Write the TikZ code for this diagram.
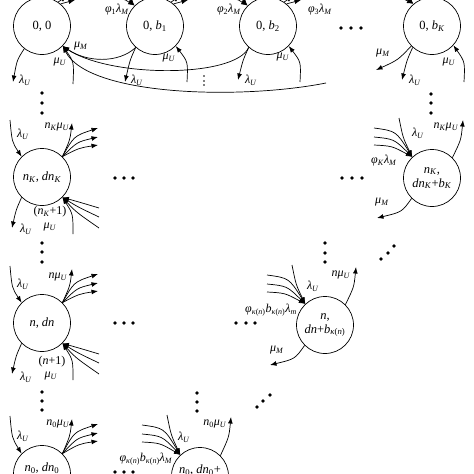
\documentclass[12pt,tikz,border=0pt]{standalone}
\usepackage{fontspec}
\setmainfont{Liberation Serif}
\usetikzlibrary{arrows.meta}
\newcommand\V[1]{\textit{#1}}
\newcommand\Sb[1]{\textsubscript{#1}}
\newcommand\lU{\V{λ}\Sb{\V{U}}}
\newcommand\mU{\V{μ}\Sb{\V{U}}}
\newcommand\mM{\V{μ}\Sb{\V{M}}}
\newcommand\lM{\V{λ}\Sb{\V{M}}}
\newcommand\kn{\V{κ}(\V{n})}
% left column pattern, frame of node at (42,177)
\newcommand\lefttop[2]{%
\begin{scope}[shift={(0,#2)}]
 \coordinate (#1-s) at (10,120);
 \draw[ar] (#1-s) .. controls (12,142) .. (#1.135);
 \coordinate (#1-u) at (72,123);
 \draw[ar] (#1.45) .. controls (70,140) .. (#1-u);
 \coordinate (#1-f1) at (98,128);
 \coordinate (#1-f2) at (98,137);
 \coordinate (#1-f3) at (98,145);
 \draw[ar] (#1.45) .. controls (74,136) .. (#1-f1);
 \draw[ar] (#1.45) .. controls (77,142) .. (#1-f2);
 \draw[ar] (#1.45) .. controls (79,148) .. (#1-f3);
\end{scope}}
\newcommand\leftbot[2]{%
\begin{scope}[shift={(0,#2)}]
 \coordinate (#1-g1) at (99,208);
 \coordinate (#1-g2) at (99,217);
 \coordinate (#1-g3) at (99,228);
 \coordinate (#1-g4) at (73,234);
 \draw[ar] (#1-g1) .. controls (79,202) .. (#1.-45);
 \draw[ar] (#1-g2) .. controls (78,207) .. (#1.-45);
 \draw[ar] (#1-g3) .. controls (76,212) .. (#1.-45);
 \draw[ar] (#1-g4) .. controls (73,214) .. (#1.-45);
 \coordinate (#1-d) at (12,228);
 \draw[ar] (#1.225) .. controls (16,210) .. (#1-d);
\end{scope}}
% right pattern, frame of node at (432,178)
\newcommand\righttop[2]{%
\begin{scope}[shift={#2}]
 \coordinate (#1-s) at (399,118);
 \coordinate (#1-f1) at (374,128);
 \coordinate (#1-f2) at (374,137);
 \coordinate (#1-f3) at (374,145);
 \draw[ar] (#1-s) .. controls (403,138) .. (#1.133);
 \draw[ar] (#1-f1) .. controls (396,131) .. (#1.133);
 \draw[ar] (#1-f2) .. controls (394,139) .. (#1.133);
 \draw[ar] (#1-f3) .. controls (392,146) .. (#1.133);
 \coordinate (#1-u) at (463,120);
 \draw[ar] (#1.45) .. controls (461,140) .. (#1-u);
\end{scope}}
\newcommand\rightmu[2]{%
\begin{scope}[shift={#2}]
 \coordinate (#1-m) at (377,218);
 \draw[ar] (#1.225) .. controls (402,212) .. (#1-m);
\end{scope}}
\begin{document}
\begin{tikzpicture}[x=1pt,y=-1pt,
 st/.style={draw,circle,minimum size=57pt,inner sep=0pt,line width=0.7pt,font=\fontsize{12.5}{16}\selectfont,align=center},
 lb/.style={inner sep=0pt,font=\fontsize{12}{13}\selectfont},
 ar/.style={line width=0.7pt,-{Latex[length=6.5pt,width=4.8pt]}},
 ln/.style={line width=0.7pt}]
\useasboundingbox (0,0) rectangle (474,474);
\clip (0,0) rectangle (474,474);
% states
\node[st] (a) at (42,26) {0, 0};
\node[st] (b1) at (155,26) {0, \V{b}\Sb{1}};
\node[st] (b2) at (268,26) {0, \V{b}\Sb{2}};
\node[st] (bK) at (432,26) {0, \V{b}\Sb{\V{K}}};
\node[st] (nK) at (42,177) {\V{n}\Sb{\V{K}}, \V{dn}\Sb{\V{K}}};
\node[st] (mK) at (432,178) {\V{n}\Sb{\V{K}},\\[-2pt]\V{dn}\Sb{\V{K}}+\V{b}\Sb{\V{K}}};
\node[st] (n) at (42,323) {\V{n}, \V{dn}};
\node[st] (m) at (325,325) {\V{n},\\[-2pt]\V{dn}+\V{b}\Sb{\kn}};
\node[st] (n0) at (42,474) {\raisebox{13pt}{\V{n}\Sb{0}, \V{dn}\Sb{0}}};
\node[st] (m0) at (200,476) {\V{n}\Sb{0}, \V{dn}\Sb{0}+\\[-2pt]\mbox{}};
% ---- top row
\coordinate (aL) at (13,82);
\draw[ar] (a.232) .. controls (17,60) .. (aL);
\coordinate (aU) at (73,84);
\draw[ar] (aU) .. controls (74,62) .. (a.316);
\coordinate (aT1) at (67,-4);
\coordinate (aT2) at (75,0);
\draw[ar] (a.56) -- (aT1);
\draw[ar] (a.50) -- (aT2);
% b1
\coordinate (b1i1) at (110,-5);
\coordinate (b1i2) at (118,-7);
\draw[ar] (b1i1) .. controls (124,-1) .. (b1.135);
\draw[ar] (b1i2) .. controls (127,-3) .. (b1.135);
\coordinate (b1T1) at (180,-4);
\coordinate (b1T2) at (188,0);
\draw[ar] (b1.56) -- (b1T1);
\draw[ar] (b1.50) -- (b1T2);
\coordinate (b1L) at (125,82);
\draw[ar] (b1.228) .. controls (130,60) .. (b1L);
\draw[ar] (b1.228) .. controls (118,64) and (86,62) .. (a.316);
\coordinate (b1U) at (187,82);
\draw[ar] (b1U) .. controls (188,62) .. (b1.316);
% b2
\coordinate (b2i1) at (223,-5);
\coordinate (b2i2) at (231,-7);
\draw[ar] (b2i1) .. controls (237,-1) .. (b2.135);
\draw[ar] (b2i2) .. controls (240,-3) .. (b2.135);
\coordinate (b2T1) at (293,-4);
\coordinate (b2T2) at (301,0);
\draw[ar] (b2.56) -- (b2T1);
\draw[ar] (b2.50) -- (b2T2);
\coordinate (b2L) at (238,80);
\draw[ar] (b2.228) .. controls (243,60) .. (b2L);
\draw[ar] (b2.228) .. controls (235,78) and (110,78) .. (a.316);
\coordinate (b2U) at (300,82);
\draw[ar] (b2U) .. controls (301,62) .. (b2.316);
\coordinate (c3) at (326,83);
\draw[ar] (c3) .. controls (240,100) and (88,96) .. (a.316);
% bK
\coordinate (bKi1) at (390,-6);
\coordinate (bKi2) at (397,-8);
\draw[ar] (bKi1) .. controls (404,-1) .. (bK.130);
\draw[ar] (bKi2) .. controls (407,-3) .. (bK.130);
\coordinate (bKT1) at (444,-6);
\coordinate (bKT2) at (450,-5);
\draw[ln] (bK.80) -- (bKT1);
\draw[ln] (bK.74) -- (bKT2);
\coordinate (bKL) at (402,80);
\draw[ar] (bK.228) .. controls (407,60) .. (bKL);
\coordinate (bKM) at (376,70);
\draw[ar] (bK.224) .. controls (398,60) .. (bKM);
\coordinate (bKU) at (464,82);
\draw[ar] (bKU) .. controls (465,62) .. (bK.318);
% top labels
\node[lb] (t1) at (117,10) {\V{φ}\Sb{1}\lM};
\node[lb] (t2) at (229,10) {\V{φ}\Sb{2}\lM};
\node[lb] (t3) at (320,10) {\V{φ}\Sb{3}\lM};
\node[lb] (t4) at (25,80) {\lU};
\node[lb] (t5) at (137,80) {\lU};
\node[lb] (t6) at (251,80) {\lU};
\node[lb] (t7) at (415,80) {\lU};
\node[lb] (t8) at (60,62) {\mU};
\node[lb] (t9) at (169,58) {\mU};
\node[lb] (t10) at (283,57) {\mU};
\node[lb] (t11) at (449,62) {\mU};
\node[lb] (t12) at (81,46) {\mM};
\node[lb] (t13) at (383,53) {\mM};
% ---- left column
\lefttop{nK}{0}
\leftbot{nK}{0}
\lefttop{n}{146}
\leftbot{n}{146}
\lefttop{n0}{296}
\node[lb] (u1) at (23,134) {\lU};
\node[lb] (u2) at (57,127) {\V{n}\Sb{\V{K}}\mU};
\node[lb] (u3) at (50,212) {(\V{n}\Sb{\V{K}}+1)};
\node[lb] (u4) at (50,227) {\mU};
\node[lb] (u5) at (26,229) {\lU};
\node[lb] (v1) at (23,284) {\lU};
\node[lb] (v2) at (58,277) {\V{n}\mU};
\node[lb] (v3) at (52,362) {(\V{n}+1)};
\node[lb] (v4) at (51,376) {\mU};
\node[lb] (v5) at (26,377) {\lU};
\node[lb] (w1) at (23,436) {\lU};
\node[lb] (w2) at (58,424) {\V{n}\Sb{0}\mU};
% ---- right nodes
\righttop{mK}{(0,0)}
\rightmu{mK}{(0,0)}
\righttop{m}{(-107,147)}
\rightmu{m}{(-107,147)}
\righttop{m0}{(-232,297)}
\node[lb] (x1) at (418,133) {\lU};
\node[lb] (x2) at (384,161) {\V{φ}\Sb{\V{K}}\lM};
\node[lb] (x3) at (446,127) {\V{n}\Sb{\V{K}}\mU};
\node[lb] (x4) at (382,202) {\mM};
\node[lb] (y1) at (313,286) {\lU};
\node[lb] (y2) at (271,310) {\V{φ}\Sb{\kn}\V{b}\Sb{\kn}\V{λ}\Sb{\V{m}}};
\node[lb] (y3) at (341,275) {\V{n}\mU};
\node[lb] (y4) at (277,350) {\mM};
\node[lb] (z1) at (184,437) {\lU};
\node[lb] (z2) at (146,459) {\V{φ}\Sb{\kn}\V{b}\Sb{\kn}\lM};
\node[lb] (z3) at (215,424) {\V{n}\Sb{0}\mU};
% ---- dots
\foreach \x/\y in {42/93,42/103,42/113, 431/94,431/103,431/113,
  42/243,42/252,42/262, 325/243,325/253,325/262,
  42/392,42/401,42/410, 197/393,197/402,197/411,
  341/28,351/28,361/28, 115/178,124/178,133/178,
  342/178,352/178,362/178, 115/323,124/323,133/323,
  236/323,246/323,255/323, 115/472,124/472,133/472,
  381/259,388/253,394/246, 257/407,263/401,270/395}
  \fill (\x,\y) circle (1.8);
\foreach \y in {76,81,85} \fill (204,\y) circle (0.9);
\end{tikzpicture}
\end{document}
